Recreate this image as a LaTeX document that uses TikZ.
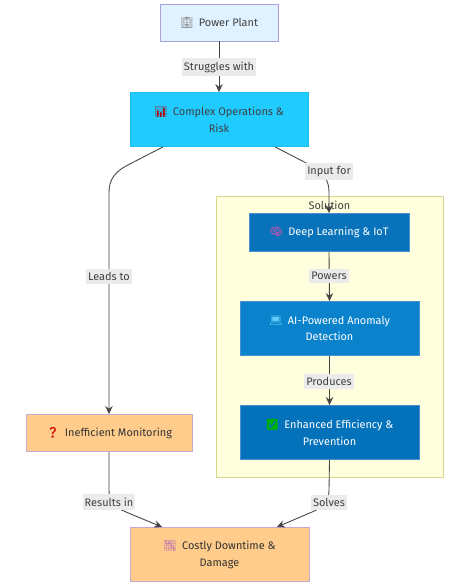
\documentclass[tikz,border=0pt]{standalone}
\usepackage{fontspec}
\setmainfont{Fira Sans}
\newfontfamily\emo{Noto Emoji}
\usetikzlibrary{arrows.meta,calc}
\definecolor{wire}{HTML}{444444}
\definecolor{purpleb}{HTML}{A9A0DC}
\definecolor{peach}{HTML}{FFCC8C}
\definecolor{peachb}{HTML}{C8A8D0}
\definecolor{labelbg}{HTML}{EBEBEB}
\definecolor{plantfill}{HTML}{E0F2FF}
\definecolor{opsfill}{HTML}{1FCBFF}
\definecolor{opsline}{HTML}{1FBEF0}
\definecolor{deepfill}{HTML}{0873BB}
\definecolor{aifill}{HTML}{0A82CC}
\definecolor{efffill}{HTML}{0472BA}
\definecolor{bluerim}{HTML}{4A8FD0}
\definecolor{solfill}{HTML}{FFFFDE}
\definecolor{solline}{HTML}{D6D68C}
\newcommand{\ico}[2]{{\emo\fontsize{8pt}{12pt}\selectfont\color{#1}#2}\hspace{4pt}}
\tikzset{
 x=0.75pt,y=-0.75pt,
 base/.style={draw,line width=0.6pt,inner sep=0pt,align=center,font=\fontsize{8.2pt}{12.4pt}\selectfont},
 lightbox/.style={base,fill=#1,draw=purpleb,text=black!75},
 darkbox/.style={base,fill=#1,draw=bluerim,text=white},
 issuebox/.style={base,fill=peach,draw=peachb,text=black!80},
 edgelabel/.style={fill=labelbg,text=black!75,inner xsep=1.5pt,inner ysep=2.5pt,font=\fontsize{8.2pt}{10pt}\selectfont},
 wirearrow/.style={draw=wire,line width=0.65pt,-{Stealth[length=6pt,width=5.5pt]}},
}
\begin{document}
\begin{tikzpicture}
\useasboundingbox (0,0) rectangle (474,588);
\fill[white] (0,0) rectangle (474,588);
\node[draw=solline,fill=solfill,line width=0.6pt,minimum width=170.25pt,minimum height=210.75pt,inner sep=0pt] (sol) at (329.5,336.5) {};
\node[font=\fontsize{8.2pt}{10pt}\selectfont,text=black!75,inner sep=0pt] (soltitle) at (329.5,205.5) {Solution};

\node[lightbox=plantfill,minimum width=88.5pt,minimum height=27.75pt] (pp) at (219,22.5) {\ico{gray}{🏢}Power Plant};
\node[base,fill=opsfill,draw=opsline,text=black!75,minimum width=133.5pt,minimum height=40.5pt] (co) at (219,119.5) {\ico{red!70!black}{📊}Complex Operations \&\\Risk};
\node[darkbox=deepfill,minimum width=120pt,minimum height=28.5pt] (dl) at (329,232.5) {\ico{magenta!70}{🧠}Deep Learning \& IoT};
\node[darkbox=aifill,minimum width=134.25pt,minimum height=40.5pt] (ai) at (329.5,328.5) {\ico{cyan!60}{💻}AI-Powered Anomaly\\Detection};
\node[darkbox=efffill,minimum width=134.25pt,minimum height=40.5pt] (ef) at (329.5,432.5) {\ico{green!70!black}{✅}Enhanced Efficiency \&\\Prevention};
\node[issuebox,minimum width=124.5pt,minimum height=27.75pt] (im) at (109,433) {\ico{red!80!black}{❓}Inefficient Monitoring};
\node[issuebox,minimum width=134.25pt,minimum height=40.5pt] (cd) at (219.5,554.5) {\ico{violet!60}{📉}Costly Downtime \&\\Damage};

\coordinate (la) at (126,166);
\coordinate (lb) at (109,192);
\coordinate (ra) at (312,166);
\coordinate (rb) at (329,192);
\coordinate (pa) at (109,490);
\coordinate (pb) at (126,512);
\coordinate (qa) at (329,490);
\coordinate (qb) at (312,512);
\draw[wirearrow] (pp.south) -- (co.north);
\draw[wirearrow] ([xshift=-42pt]co.south) -- (la) .. controls (115,172) and (109,180) .. (lb) -- (im.north);
\draw[wirearrow] ([xshift=42pt]co.south) -- (ra) .. controls (323,172) and (329,180) .. (rb) -- (dl.north);
\draw[wirearrow] (dl.south) -- (ai.north);
\draw[wirearrow] (ai.south) -- (ef.north);
\draw[wirearrow] (im.south) -- (pa) .. controls (109,502) and (114,507) .. (pb) -- ([xshift=-43pt]cd.north);
\draw[wirearrow] (ef.south) -- (qa) .. controls (329,502) and (324,507) .. (qb) -- ([xshift=43pt]cd.north);

\node[edgelabel] (l1) at (219,67) {Struggles with};
\node[edgelabel] (l2) at (329,171.5) {Input for};
\node[edgelabel] (l3) at (109,276) {Leads to};
\node[edgelabel] (l4) at (329,276) {Powers};
\node[edgelabel] (l5) at (329,381) {Produces};
\node[edgelabel] (l6) at (109,502) {Results in};
\node[edgelabel] (l7) at (329,502) {Solves};
\end{tikzpicture}
\end{document}
